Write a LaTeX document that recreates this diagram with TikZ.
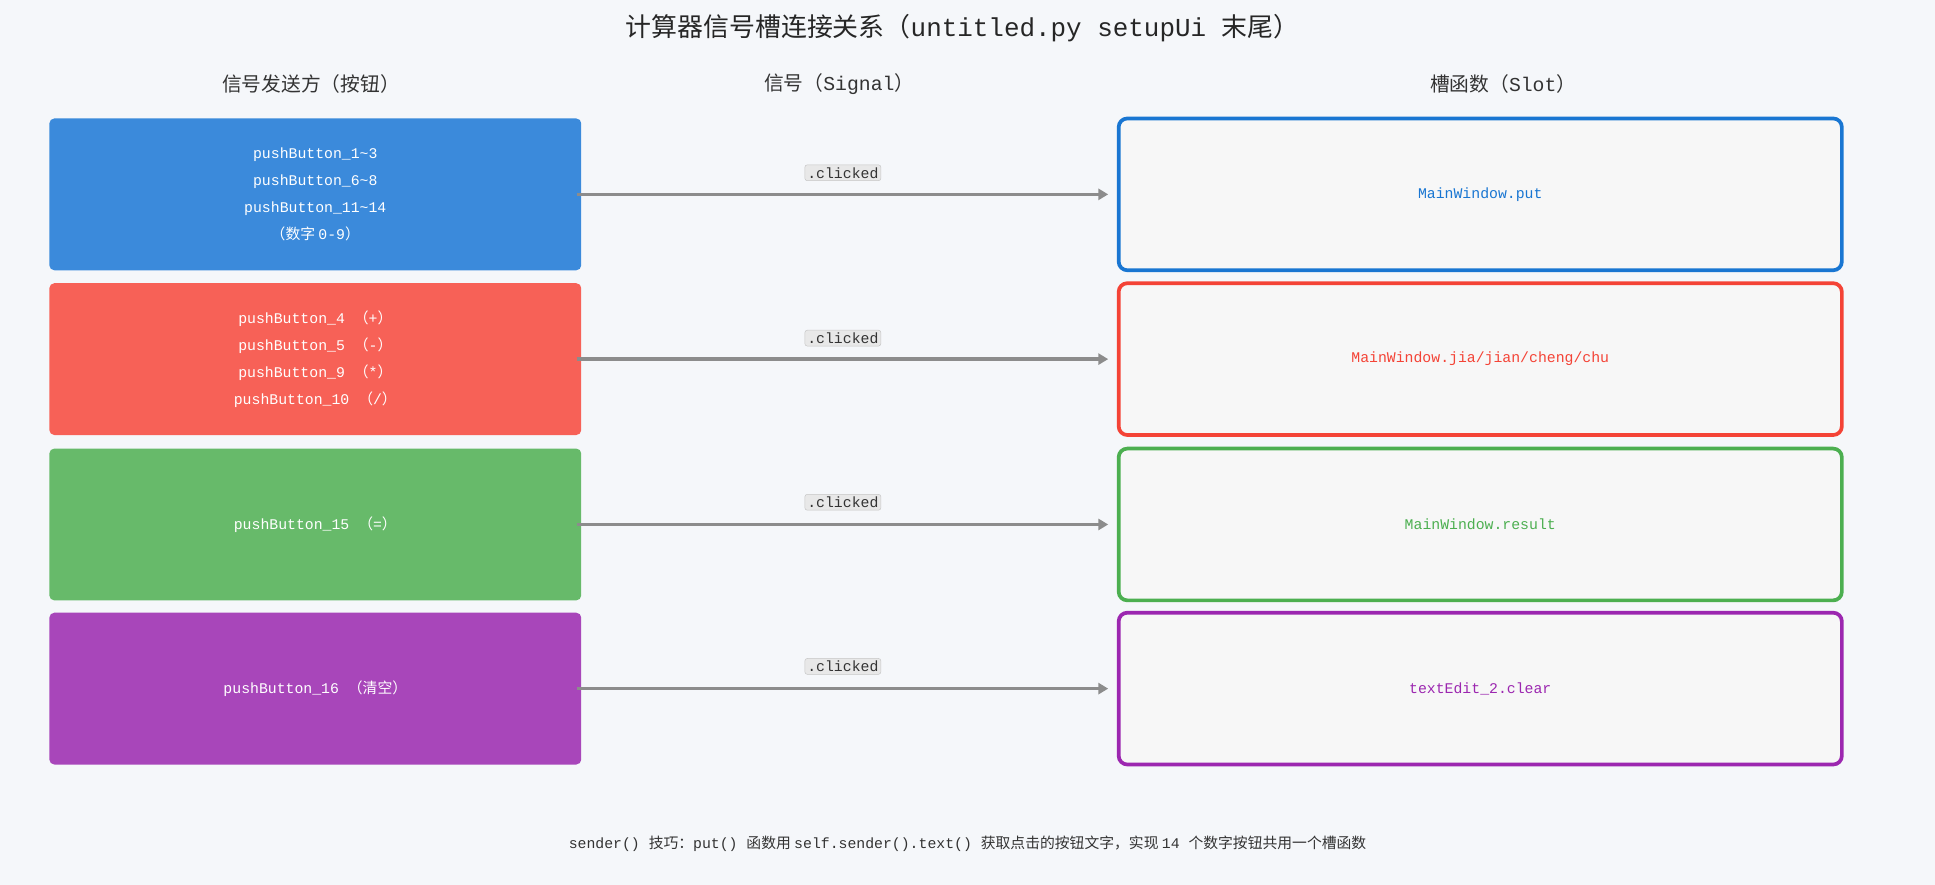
\documentclass[tikz,border=0pt]{standalone}
\usepackage{fontspec}
\setmainfont{Liberation Mono}
\newfontfamily\cjk{Noto Sans CJK SC}
\usetikzlibrary{arrows.meta}
\definecolor{bg}{HTML}{F5F7FA}
\definecolor{cb}{HTML}{3B8ADB}\definecolor{cr}{HTML}{F76157}
\definecolor{cg}{HTML}{67BA6A}\definecolor{cp}{HTML}{A846BA}
\definecolor{db}{HTML}{1976D2}\definecolor{dr}{HTML}{F44336}
\definecolor{dg}{HTML}{4CAF50}\definecolor{dp}{HTML}{9C27B0}
\definecolor{txt}{HTML}{333333}
\tikzset{
 src/.style={rounded corners=4pt,minimum width=431pt,minimum height=123pt,inner sep=0pt,text=white,font=\fontsize{12}{22}\selectfont,align=center},
 slot/.style={rounded corners=7pt,line width=3pt,fill=white!97!black,minimum width=586pt,minimum height=123pt,inner sep=0pt,font=\fontsize{12}{14}\selectfont},
 con/.style={draw=gray!90,line width=3pt,-{Triangle[length=8pt,width=9pt]}},
 sig/.style={fill=gray!18,draw=gray!45,rounded corners=2pt,inner sep=2pt,font=\fontsize{12}{13}\selectfont,text=txt},
 head/.style={font=\fontsize{16}{18}\selectfont,text=txt}
}
\begin{document}
\begin{tikzpicture}[x=1pt,y=-1pt]
\fill[bg] (0,0) rectangle (1568,717);
\useasboundingbox (0,0) rectangle (1568,717);
\node[font=\fontsize{21}{24}\selectfont,text=black!85] (title) at (780,23) {{\cjk 计算器信号槽连接关系（}untitled.py setupUi {\cjk 末尾）}};
\node[head] (h1) at (252,68) {\cjk 信号发送方（按钮）};
\node[head] (h2) at (680,68) {{\cjk 信号（}Signal{\cjk ）}};
\node[head] (h3) at (1218,68) {{\cjk 槽函数（}Slot{\cjk ）}};
\node[src,fill=cb] (s1) at (255.5,157.5) {pushButton\_1\textasciitilde3\\pushButton\_6\textasciitilde8\\pushButton\_11\textasciitilde14\\{\cjk （数字 }0-9{\cjk ）}};
\node[src,fill=cr] (s2) at (255.5,291) {pushButton\_4 {\cjk （}+{\cjk ）}\\pushButton\_5 {\cjk （}-{\cjk ）}\\pushButton\_9 {\cjk （}*{\cjk ）}\\pushButton\_10 {\cjk （}/{\cjk ）}};
\node[src,fill=cg] (s3) at (255.5,425) {pushButton\_15 {\cjk （}={\cjk ）}};
\node[src,fill=cp] (s4) at (255.5,558) {pushButton\_16 {\cjk （清空）}};
\node[slot,draw=db,text=db] (t1) at (1199.5,157.5) {MainWindow.put};
\node[slot,draw=dr,text=dr] (t2) at (1199.5,291) {MainWindow.jia/jian/cheng/chu};
\node[slot,draw=dg,text=dg] (t3) at (1199.5,425) {MainWindow.result};
\node[slot,draw=dp,text=dp] (t4) at (1199.5,558) {textEdit\_2.clear};
\foreach \i/\y in {1/140,2/274,3/407,4/540}{
 \draw[con] ([xshift=-4pt]s\i.east) -- ([xshift=-7pt]t\i.west);
 \node[sig] (l\i) at (683,\y) {.clicked};
}
\node[font=\fontsize{12}{13}\selectfont,text=txt] (foot) at (784,684) {sender() {\cjk 技巧：}put() {\cjk 函数用 }self.sender().text() {\cjk 获取点击的按钮文字，实现 }14 {\cjk 个数字按钮共用一个槽函数}};
\end{tikzpicture}
\end{document}
